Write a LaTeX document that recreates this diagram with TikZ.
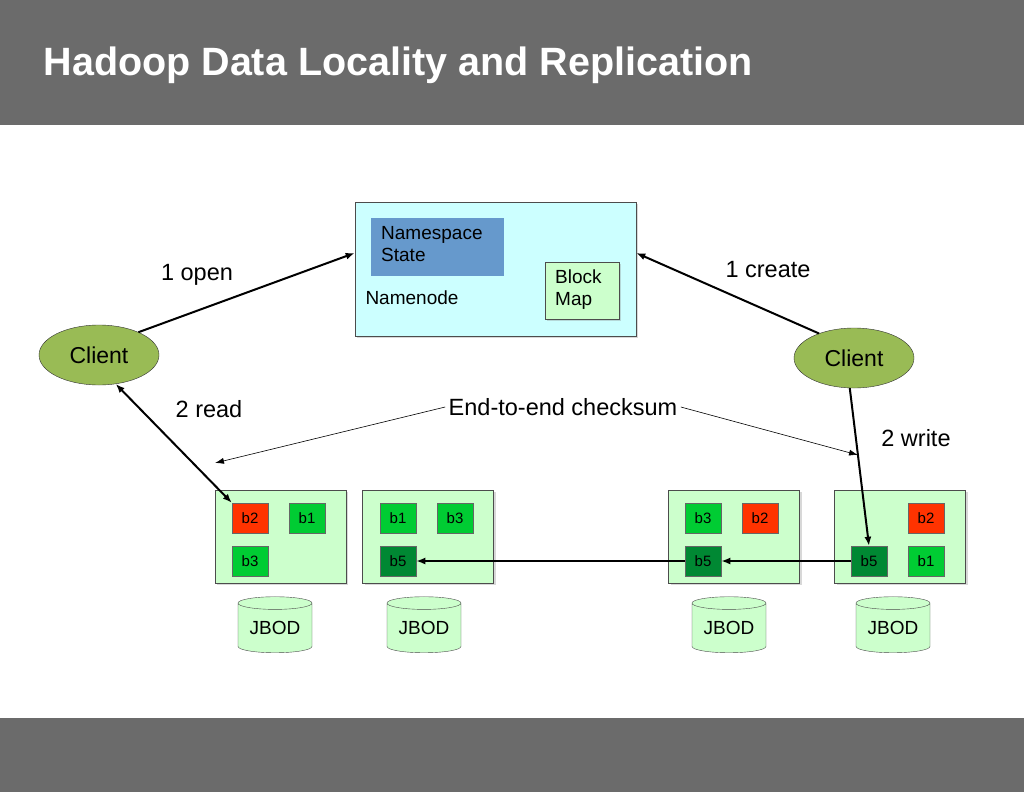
\documentclass[tikz,border=0pt]{standalone}
\usepackage{fontspec}
\setmainfont{Liberation Sans}
\usetikzlibrary{shapes.geometric,arrows.meta,shadows}
\definecolor{bar}{HTML}{6B6B6B}
\definecolor{nn}{HTML}{CCFFFF}
\definecolor{ns}{HTML}{6699CC}
\definecolor{lg}{HTML}{CCFFCC}
\definecolor{cl}{HTML}{99BB55}
\definecolor{rb}{HTML}{FF3300}
\definecolor{gb}{HTML}{00CC33}
\definecolor{db}{HTML}{008833}
\begin{document}
\begin{tikzpicture}[x=1pt,y=-1pt,
  box/.style={draw=black!70,line width=0.6pt,drop shadow={shadow xshift=2pt,shadow yshift=-2pt,opacity=0.3}},
  blk/.style={draw=black!60,line width=0.5pt,minimum width=36pt,minimum height=30pt,inner sep=0pt,font=\fontsize{15}{17}\selectfont},
  red/.style={blk,fill=rb},grn/.style={blk,fill=gb},dk/.style={blk,fill=db},
  dn/.style={box,fill=lg,minimum width=131pt,minimum height=93pt,inner sep=0pt},
  jb/.style={cylinder,shape border rotate=90,aspect=0.25,draw=black!70,fill=lg,minimum width=74pt,minimum height=56pt,inner sep=0pt,font=\fontsize{19}{21}\selectfont},
  cli/.style={ellipse,draw=black!80,fill=cl,minimum width=120pt,minimum height=60pt,font=\fontsize{23}{26}\selectfont},
  lab/.style={font=\fontsize{23.5}{26}\selectfont},
  arr/.style={line width=2pt,-{Latex[length=9pt,width=7pt]}},
  thin/.style={line width=0.6pt,-{Latex[length=9pt,width=6pt]}}]
\useasboundingbox (0,0) rectangle (1024,792);
\fill[white] (0,0) rectangle (1024,792);
\fill[bar] (0,0) rectangle (1024,125);
\fill[bar] (0,718) rectangle (1024,792);
\node[anchor=west,text=white,font=\bfseries\fontsize{39.5}{44}\selectfont] (title) at (40,65) {Hadoop Data Locality and Replication};
% namenode
\node[box,fill=nn,minimum width=281pt,minimum height=134pt] (nn) at (495.5,269) {};
\node[fill=ns,minimum width=133pt,minimum height=58pt,anchor=north west,inner sep=0pt] (ns) at (371,218) {};
\node[anchor=north west,align=left,font=\fontsize{19}{22}\selectfont,inner sep=0pt] (nst) at (381,226) {Namespace\\State};
\node[box,fill=lg,minimum width=74pt,minimum height=57pt,anchor=north west] (bm) at (545,262) {};
\node[anchor=north west,align=left,font=\fontsize{19}{22}\selectfont,inner sep=0pt] (bmt) at (555,270) {Block\\Map};
\node[font=\fontsize{19}{22}\selectfont] (nnl) at (412,298) {Namenode};
% clients
\node[cli] (c1) at (99,355) {Client};
\node[cli] (c2) at (854,358) {Client};
% datanodes
\node[dn] (d1) at (280.5,536.5) {};
\node[dn] (d2) at (428,536.5) {};
\node[dn] (d3) at (734,536.5) {};
\node[dn] (d4) at (900,536.5) {};
\node[red] (d1b2) at (250,518) {b2};
\node[grn] (d1b1) at (307,518) {b1};
\node[grn] (d1b3) at (250,561) {b3};
\node[grn] (d2b1) at (398,518) {b1};
\node[grn] (d2b3) at (455,518) {b3};
\node[dk] (d2b5) at (398,561) {b5};
\node[grn] (d3b3) at (703,518) {b3};
\node[red] (d3b2) at (760,518) {b2};
\node[dk] (d3b5) at (703,561) {b5};
\node[red] (d4b2) at (926,518) {b2};
\node[dk] (d4b5) at (869,561) {b5};
\node[grn] (d4b1) at (926,561) {b1};
\node[jb] (j1) at (275,628) {JBOD};
\node[jb] (j2) at (424,628) {JBOD};
\node[jb] (j3) at (729,628) {JBOD};
\node[jb] (j4) at (893,628) {JBOD};
% arrows
\draw[arr] (c1.30) -- (nn.west |- 0,253);
\node[lab] (l1) at (197,275) {1 open};
\draw[arr] (c2.145) -- (nn.east |- 0,253);
\node[lab] (l2) at (768,270) {1 create};
\draw[arr,{Latex[length=9pt,width=7pt]}-{Latex[length=9pt,width=7pt]}] (c1.300) -- (d1b2.north west);
\node[lab] (l3) at (209,409) {2 read};
\draw[arr] (c2.262) -- (d4b5.north);
\node[lab] (l4) at (916,438) {2 write};
\node[lab] (ck) at (563,407) {End-to-end checksum};
\coordinate (ckl) at (215,463);
\coordinate (ckr) at (858,455);
\draw[thin] (ck.west) -- (ckl);
\draw[thin] (ck.east) -- (ckr);
\draw[arr] (d4b5.west) -- (d3b5.east);
\draw[arr] (d3b5.west) -- (d2b5.east);
\end{tikzpicture}
\end{document}
